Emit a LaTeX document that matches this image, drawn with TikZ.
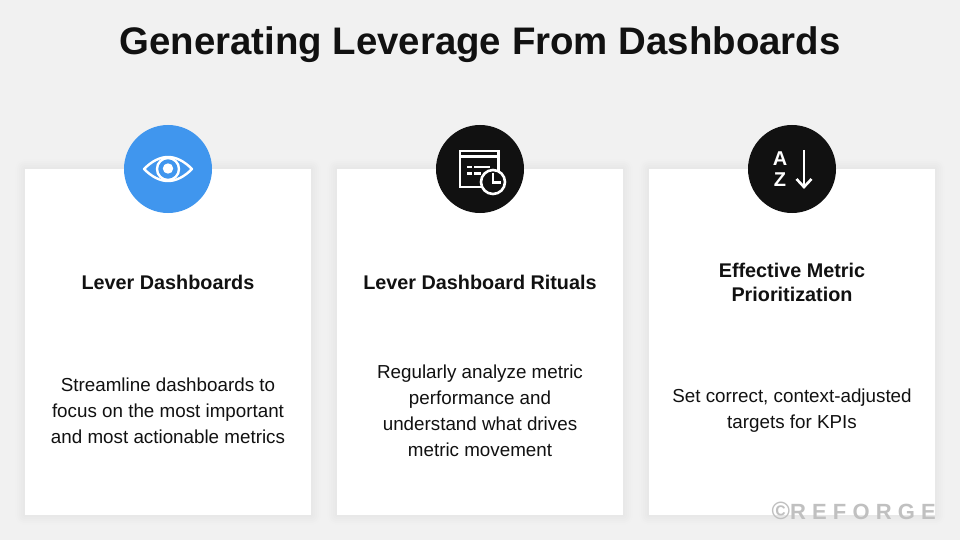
\documentclass[tikz,border=0pt]{standalone}
\usepackage{fontspec}
\setmainfont{Liberation Sans}
\newfontfamily\wmfont[LetterSpace=28]{Liberation Sans}
\usetikzlibrary{arrows.meta}
\definecolor{pagebg}{HTML}{F1F1F1}
\definecolor{ink}{HTML}{111111}
\definecolor{bluefill}{HTML}{4096EE}
\definecolor{wmgray}{HTML}{C0C0C0}
\newcommand{\cardat}[2]{%
  \foreach \s/\o in {10/0.005,8/0.006,6/0.007,4/0.008,2/0.009}{
    \fill[black,opacity=\o,rounded corners=\s pt] (#1-\s,169-\s) rectangle (#1+286+\s,515+\s);
  }
  \node[cardbox] (#2) at (#1+143,342) {};
}
\tikzset{
  cardbox/.style={fill=white,draw=none,minimum width=286pt,minimum height=346pt,inner sep=0pt,outer sep=0pt},
  badgeblue/.style={circle,fill=bluefill,minimum size=88pt,inner sep=0pt},
  badgeblack/.style={circle,fill=ink,minimum size=88pt,inner sep=0pt},
  headtext/.style={align=center,text=ink,font=\fontsize{19.8}{24}\selectfont\bfseries,inner sep=0pt},
  bodytext/.style={align=center,text=ink,font=\fontsize{18.8}{26}\selectfont,inner sep=0pt},
  iconline/.style={draw=white,line width=2.6pt},
}
\begin{document}
\begin{tikzpicture}[x=1pt,y=-1pt]
\useasboundingbox (0,0) rectangle (960,540);
\fill[pagebg] (0,0) rectangle (960,540);
\node[text=ink,font=\fontsize{38.4}{46}\selectfont\bfseries,inner sep=0pt] (title) at (480,45) {Generating Leverage From Dashboards};
\cardat{25}{cardA}
\cardat{337}{cardB}
\cardat{649}{cardC}
\node[badgeblue] (badgeA) at (168,169) {};
\node[badgeblack] (badgeB) at (480,169) {};
\node[badgeblack] (badgeC) at (792,169) {};
% eye icon
\draw[iconline,line width=2.4pt,line join=round] (144,169) .. controls (152,161) and (160,157) .. (168,157) .. controls (176,157) and (184,161) .. (192,169) .. controls (184,177) and (176,181) .. (168,181) .. controls (160,181) and (152,177) .. (144,169) -- cycle;
\draw[iconline,line width=2.4pt] (168,169) circle (11);
\fill[white] (168,168.5) circle (5.2);
% calendar icon
\draw[iconline] (460,151) rectangle (498.5,187);
\fill[white] (460,155.5) rectangle (498.5,158.5);
\draw[iconline] (467,167) -- (472,167) (474,167) -- (490,167);
\draw[iconline] (467,173.5) -- (472,173.5) (474,173.5) -- (481,173.5);
\draw[draw=white,fill=ink,line width=2.6pt] (493,182) circle (12);
\draw[iconline] (493,173) -- (493,182.5) -- (501,182.5);
% sort icon
\node[text=white,font=\fontsize{20}{20}\selectfont\bfseries,inner sep=0pt] (letterA) at (780,159) {A};
\node[text=white,font=\fontsize{20}{20}\selectfont\bfseries,inner sep=0pt] (letterZ) at (780,180) {Z};
\coordinate (arrowTop) at (804,150);
\coordinate (arrowEnd) at (804,187);
\draw[iconline] (arrowTop) -- (arrowEnd);
\draw[iconline] (796.5,179) -- (804,187) -- (811.5,179);
% headings
\node[headtext] (headA) at (168,282.5) {Lever Dashboards};
\node[headtext] (headB) at (480,282.5) {Lever Dashboard Rituals};
\node[headtext] (headC) at (792,282.5) {Effective Metric\\Prioritization};
% bodies
\node[bodytext] (bodyA) at (168,411) {Streamline dashboards to\\focus on the most important\\and most actionable metrics};
\node[bodytext] (bodyB) at (480,411) {Regularly analyze metric\\performance and\\understand what drives\\metric movement};
\node[bodytext] (bodyC) at (792,411) {Set correct, context-adjusted\\targets for KPIs};
% watermark
\node[text=wmgray,font=\fontsize{22}{22}\selectfont\wmfont\bfseries,inner sep=0pt,anchor=east] (mark) at (936,511) {{\fontsize{25}{25}\selectfont ©}REFORGE};
\end{tikzpicture}
\end{document}
